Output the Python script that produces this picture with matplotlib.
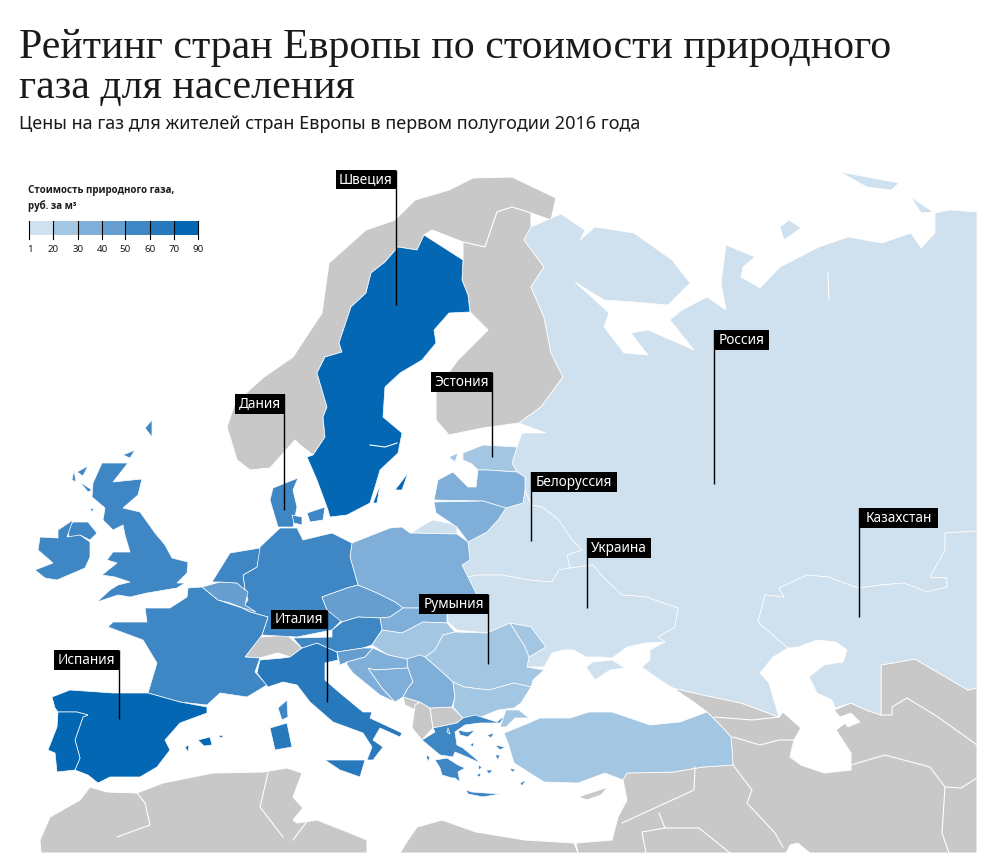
import matplotlib
matplotlib.use("Agg")
import matplotlib.pyplot as plt
from matplotlib.colors import BoundaryNorm, ListedColormap
from matplotlib.patches import Polygon, Rectangle

# --- data ---------------------------------------------------------------
TITLE = ["Рейтинг стран Европы по стоимости природного", "газа для населения"]
SUBTITLE = "Цены на газ для жителей стран Европы в первом полугодии 2016 года"
LEGEND_TITLE = ["Стоимость природного газа,", "руб. за м³"]
BOUNDS = [1, 20, 30, 40, 50, 60, 70, 90]
RAMP = ["#cfe0ee", "#a3c6e3", "#7fafd8", "#659ecf", "#3f87c4", "#2878bc", "#0367b4"]
GREY = "#c8c8c8"

PRICES = {
    "Russia": 5, "Kazakhstan": 3, "Belarus": 7, "Ukraine": 15, "Estonia": 28, "Latvia": 34,
    "Lithuania": 36, "Poland": 33, "Czechia": 42, "Slovakia": 35, "Hungary": 25, "Romania": 22,
    "Bulgaria": 28, "Moldova": 23, "Turkey": 23, "Greece": 52, "Italy": 64, "Spain": 72,
    "Portugal": 71, "Sweden": 80, "Denmark": 55, "Germany": 55, "France": 55, "UK": 53,
    "Ireland": 52, "Netherlands": 55, "Belgium": 42, "Austria": 55, "Slovenia": 45,
    "Croatia": 35, "Bosnia": 36, "Serbia": 38,
}

SHAPES = {
    "Sweden": [[(424,235),(463,260),(462,280),(468,295),(470,312),(449,313),(434,330),(436,343),(422,360),(400,373),(385,387),(383,417),(402,433),(398,453),(380,470),(375,487),(370,503),(347,515),(330,517),(328,510),(317,480),(307,457),(313,455),(325,437),(323,417),(327,407),(317,373),(325,357),(342,352),(339,343),(351,307),(366,293),(371,273),(385,262),(398,247),(417,250)],
               [(395,490),(408,473),(402,490)], [(373,503),(380,485),(377,503)]],
    "Russia": [[(977,212),(950,210),(935,213),(935,233),(921,248),(911,233),(882,243),(848,237),(819,247),(780,267),(760,288),(741,277),(743,267),(755,257),(726,245),(721,283),(726,310),(707,297),(682,310),(670,320),(694,350),(648,330),(631,333),(648,355),(624,353),(604,327),(609,313),(575,282),(604,300),(634,302),(668,305),(690,283),(672,260),(634,233),(595,227),(580,240),(585,230),(561,214),(531,227),(524,240),(544,267),(531,287),(544,317),(551,353),(563,377),(541,407),(519,423),(546,433),(522,433),(517,447),(512,463),(517,472),(525,477),(525,490),(531,505),(542,507),(559,520),(572,540),(582,550),(567,555),(570,568),(593,565),(603,577),(622,595),(646,597),(678,608),(675,627),(658,637),(665,642),(650,650),(650,660),(642,667),(660,680),(673,688),(703,695),(741,703),(779,717),(773,697),(769,683),(760,673),(773,657),(788,648),(758,622),(765,595),(784,597),(779,588),(807,575),(828,577),(858,588),(881,585),(904,583),(927,592),(947,587),(947,578),(930,577),(945,550),(945,533),(977,531)],
               [(840,172),(899,183),(891,190),(867,187)], [(911,197),(933,212),(921,213)],
               [(780,227),(789,220),(801,228),(784,240)],
               [(412,533),(420,527),(433,520),(457,525),(457,534)]],
    "Kazakhstan": [[(788,648),(758,622),(765,595),(784,597),(779,588),(807,575),(828,577),(858,588),(881,585),(904,583),(927,592),(947,587),(947,578),(930,577),(945,550),(945,533),(977,531),(977,688),(968,690),(915,659),(881,665),(881,715),(866,710),(851,703),(835,708),(832,700),(817,693),(809,677),(824,665),(843,662),(847,650),(836,642),(817,640),(798,647)]],
    "Belarus": [[(468,542),(487,532),(498,520),(506,508),(523,503),(525,490),(531,505),(542,507),(559,520),(572,540),(582,550),(567,555),(570,568),(559,570),(552,582),(529,580),(502,575),(478,575),(468,577),(462,565),(470,560)]],
    "Ukraine": [[(468,577),(478,575),(502,575),(529,580),(552,582),(559,570),(570,568),(593,565),(603,577),(622,595),(646,597),(678,608),(675,627),(658,637),(665,642),(646,643),(627,647),(612,658),(601,657),(586,657),(574,650),(563,650),(552,653),(544,667),(527,667),(529,657),(546,647),(531,627),(510,623),(487,633),(457,630),(448,622),(447,613),(477,595)],
                [(586,667),(593,662),(612,660),(625,668),(610,670),(595,680)]],
    "Moldova": [[(510,623),(531,627),(546,647),(529,657),(525,647)]],
    "Estonia": [[(463,453),(483,445),(517,447),(512,463),(517,472),(487,470),(478,470),(472,464),(463,460)], [(449,457),(458,453),(455,462)]],
    "Latvia": [[(434,500),(438,480),(453,472),(468,487),(476,487),(478,470),(487,470),(517,472),(525,477),(525,490),(523,503),(506,508),(483,501)]],
    "Lithuania": [[(434,502),(483,501),(506,508),(498,520),(487,532),(468,542),(457,527),(436,513)]],
    "Poland": [[(352,543),(390,528),(402,527),(410,533),(457,534),(468,542),(470,560),(462,565),(468,577),(477,595),(447,613),(422,608),(403,608),(395,602),(377,593),(358,585),(350,557)]],
    "Germany": [[(280,528),(297,528),(303,540),(332,533),(352,543),(350,557),(358,585),(347,588),(322,597),(327,610),(342,620),(332,630),(297,637),(262,635),(268,617),(250,612),(242,608),(248,600),(245,590),(243,575),(257,567),(258,550),(260,547)]],
    "France": [[(188,588),(202,587),(218,600),(242,608),(250,612),(268,617),(262,635),(245,657),(260,658),(255,672),(267,685),(247,697),(220,693),(207,705),(180,702),(148,693),(157,663),(143,640),(108,627),(113,622),(147,622),(145,608),(170,608),(187,597)],
               [(278,708),(287,700),(288,717),(282,720)]],
    "Belgium": [[(202,587),(220,582),(237,583),(248,592),(245,605),(256,612),(243,608),(230,603),(218,600)]],
    "Netherlands": [[(212,582),(230,553),(260,548),(257,567),(243,575),(245,590),(237,583),(220,582)]],
    "Spain": [[(52,697),(70,690),(113,693),(148,693),(180,702),(207,707),(207,713),(180,723),(165,740),(170,750),(157,767),(140,777),(110,777),(98,783),(88,775),(75,770),(80,758),(75,740),(83,717),(88,715),(77,712),(58,712),(55,708)],
              [(198,740),(210,737),(212,745),(204,746)], [(185,747),(189,745),(188,752)], [(218,736),(223,735),(222,738)]],
    "Portugal": [[(58,712),(77,712),(88,715),(83,717),(75,740),(80,758),(75,770),(57,772),(55,753),(48,750),(57,727)]],
    "Italy": [[(260,660),(283,658),(290,657),(302,648),(317,643),(337,652),(338,660),(325,663),(325,680),(340,693),(363,712),(372,712),(370,718),(402,733),(400,737),(380,728),(373,740),(383,747),(373,760),(367,760),(372,747),(363,733),(333,722),(310,702),(297,685),(283,682),(268,687),(257,673)],
              [(325,760),(365,760),(360,777),(340,770)], [(270,728),(287,723),(292,747),(275,750)]],
    "UK": [[(93,483),(102,463),(128,463),(113,482),(142,479),(138,495),(123,508),(140,512),(155,533),(165,545),(172,558),(188,562),(187,573),(177,583),(185,583),(177,588),(147,593),(130,597),(118,595),(97,602),(110,590),(118,585),(130,582),(115,577),(102,575),(117,563),(107,560),(113,552),(130,552),(125,535),(123,525),(113,530),(103,520),(105,508),(92,497)],
           [(67,530),(73,522),(88,522),(97,533),(90,540),(80,535),(70,539)],
           [(72,480),(74,470),(76,482)], [(77,472),(88,466),(83,476)], [(80,482),(92,490),(88,492)],
           [(123,455),(135,450),(130,458)], [(90,508),(94,509),(92,512)]],
    "Ireland": [[(40,537),(58,538),(58,530),(73,520),(67,537),(80,535),(90,542),(90,557),(85,568),(57,580),(45,578),(35,570),(53,563),(38,550)]],
    "Denmark": [[(270,500),(273,488),(298,478),(293,490),(297,507),(293,527),(278,527)],
                [(307,513),(325,507),(323,520),(310,522)], [(292,515),(302,517),(302,525),(294,523)],
                [(145,428),(152,420),(152,437)]],
    "Czechia": [[(322,597),(347,588),(358,585),(377,593),(395,602),(403,608),(390,617),(380,618),(358,617),(342,622),(327,610)]],
    "Slovakia": [[(380,618),(390,617),(403,608),(422,608),(447,613),(447,623),(423,622),(402,633),(382,630)]],
    "Austria": [[(342,622),(358,617),(380,618),(382,630),(372,645),(363,648),(337,652),(317,643),(302,648),(293,638),(332,637),(332,630)]],
    "Hungary": [[(382,630),(402,633),(423,622),(447,623),(455,632),(443,635),(435,650),(425,657),(407,659),(388,655),(372,645)]],
    "Slovenia": [[(337,652),(363,648),(373,648),(365,657),(347,662),(340,665)]],
    "Croatia": [[(373,648),(388,655),(407,659),(408,668),(375,670),(368,668),(382,688),(395,702),(380,695),(353,673),(347,665),(347,662),(365,657)]],
    "Bosnia": [[(368,668),(375,670),(408,668),(413,682),(408,688),(403,697),(395,702),(382,688)]],
    "Serbia": [[(407,659),(420,655),(425,657),(440,670),(453,682),(455,697),(452,707),(430,708),(420,702),(403,697),(408,688),(413,682),(408,668)]],
    "Romania": [[(455,632),(487,633),(510,623),(525,647),(529,657),(527,667),(544,670),(533,680),(531,687),(514,683),(489,690),(464,687),(453,682),(440,670),(425,657),(435,650),(443,635)]],
    "Bulgaria": [[(453,682),(464,687),(489,690),(514,683),(531,687),(521,703),(514,708),(498,710),(481,717),(463,718),(453,707),(455,697)]],
    "Greece": [[(422,740),(435,732),(433,728),(457,723),(463,718),(475,715),(497,722),(505,715),(500,723),(480,723),(465,725),(455,732),(457,745),(463,748),(475,758),(480,763),(467,757),(455,752),(453,757),(440,755),(428,745)],
               [(435,760),(447,758),(458,765),(465,768),(458,772),(460,782),(455,778),(452,778),(442,775),(440,768)],
               [(458,730),(467,732),(475,730),(468,737),(460,735)],
               [(466,790),(472,792),(500,794),(483,797),(468,794)],
               [(495,745),(505,747),(500,750)], [(495,755),(500,755),(498,760)], [(520,783),(526,780),(522,786)],
               [(478,765),(482,767),(479,770)], [(486,770),(493,770),(489,774)], [(476,775),(481,773),(480,777)],
               [(510,768),(516,770),(512,772)], [(487,735),(494,733),(491,738)], [(426,755),(430,757),(428,762)],
               [(448,728),(450,734),(447,732)], [(470,745),(474,742),(473,747)]],
    "Turkey": [[(504,733),(529,723),(540,718),(570,718),(589,712),(612,712),(650,725),(680,722),(707,712),(722,727),(731,737),(733,765),(703,767),(673,772),(627,773),(623,780),(605,773),(578,783),(544,782),(514,763),(508,743)],
               [(506,710),(519,710),(529,718),(515,718),(506,727),(500,727)]],
}
GREY_SHAPES = [
    [(237,460),(227,427),(235,403),(264,377),(293,357),(322,313),(329,263),(366,230),(395,220),(415,200),(449,190),(473,178),(512,177),(556,198),(551,220),(531,213),(512,207),(497,212),(485,247),(463,242),(432,230),(424,235),(417,250),(398,247),(385,262),(371,273),(366,293),(351,307),(339,343),(342,352),(325,357),(317,373),(327,407),(323,417),(325,437),(313,455),(300,445),(295,440),(270,468),(250,470)],
    [(485,247),(497,212),(512,207),(531,213),(531,227),(524,240),(544,267),(531,287),(544,317),(551,353),(563,377),(541,407),(519,423),(483,428),(449,435),(436,420),(436,390),(458,360),(488,330),(470,312),(468,295),(462,280),(463,260),(463,242)],
    [(245,657),(260,637),(287,635),(302,648),(290,657),(278,653),(260,658)],
    [(403,697),(420,702),(415,710),(405,705)],
    [(415,705),(420,702),(430,708),(433,728),(422,740),(412,728)],
    [(430,708),(452,707),(463,718),(457,723),(433,728)],
    [(578,797),(608,787),(601,795),(587,800)],
    [(41,853),(40,840),(50,817),(80,800),(90,787),(107,792),(137,793),(163,783),(213,773),(263,772),(287,768),(302,773),(293,797),(303,808),(293,820),(297,823),(317,820),(350,833),(367,840),(367,853)],
    [(400,853),(408,840),(417,827),(442,820),(476,832),(525,840),(574,843),(578,853)],
    [(673,688),(703,695),(741,703),(779,717),(783,712),(801,728),(794,740),(790,757),(801,765),(824,773),(851,770),(851,753),(836,730),(845,723),(834,710),(851,703),(866,710),(881,715),(881,665),(915,659),(968,690),(977,688),(977,853),(578,853),(576,843),(612,840),(618,817),(627,800),(623,780),(627,773),(673,772),(703,767),(733,765),(731,737),(722,727),(707,712),(695,703)],
]
WHITE_LINES = [
    [(137,793),(145,803),(150,825),(117,837)], [(268,773),(260,807),(283,837)], [(293,840),(308,820)],
    [(695,767),(694,790),(622,823)], [(733,765),(752,790),(747,803),(775,833),(783,847)],
    [(659,813),(665,828),(642,832),(646,853)], [(665,828),(699,828),(730,853)],
    [(851,765),(885,755),(930,767),(945,787),(942,833),(949,853)], [(945,787),(961,788),(977,778)],
    [(881,715),(892,715),(892,707),(907,698),(938,717),(977,745)],
    [(714,717),(752,720),(779,717)], [(733,737),(760,745),(779,740),(794,740)],
    [(828,273),(829,300)], [(370,445),(385,447),(397,443)],
]
WHITE_PATCHES = [
    [(840,717),(851,713),(860,722),(848,727)],
    [(786,853),(790,845),(798,843),(810,853)],
]

CALLOUTS = [
    ("Швеция", 336, 396, 170, 189, 396, 305),
    ("Дания", 235, 285, 394, 414, 284, 510),
    ("Эстония", 431, 492, 372, 392, 492, 457),
    ("Россия", 714, 769, 330, 350, 714, 484),
    ("Белоруссия", 531, 617, 472, 492, 531, 541),
    ("Украина", 587, 651, 538, 558, 587, 608),
    ("Казахстан", 859, 938, 508, 528, 859, 617),
    ("Румыния", 419, 488, 594, 614, 488, 664),
    ("Италия", 271, 327, 610, 629, 327, 702),
    ("Испания", 54, 119, 650, 670, 119, 719),
]

# --- drawing ------------------------------------------------------------
SANS = "Noto Sans"
cmap = ListedColormap(RAMP)
norm = BoundaryNorm(BOUNDS, cmap.N)

fig = plt.figure(figsize=(9.98, 8.63), dpi=100, facecolor="white")
ax = fig.add_axes([0, 0, 1, 1])
ax.set_xlim(0, 998)
ax.set_ylim(863, 0)
ax.axis("off")

for ring in GREY_SHAPES:
    ax.add_patch(Polygon(ring, closed=True, fc=GREY, ec="white", lw=0.7, zorder=1))
for name, rings in SHAPES.items():
    colour = cmap(norm(PRICES[name]))
    for ring in rings:
        ax.add_patch(Polygon(ring, closed=True, fc=colour, ec="white", lw=0.5, zorder=2))
for ring in WHITE_PATCHES:
    ax.add_patch(Polygon(ring, closed=True, fc="white", ec="white", lw=0.5, zorder=3))
for line in WHITE_LINES:
    ax.plot(*zip(*line), color="white", lw=0.8, zorder=3)

# headings
ax.text(19, 48, TITLE[0], family="Liberation Serif", fontsize=30.2, color="#1a1a1a", va="center", ha="left")
ax.text(19, 88, TITLE[1], family="Liberation Serif", fontsize=30.2, color="#1a1a1a", va="center", ha="left")
ax.text(19, 124, SUBTITLE, family=SANS, fontsize=13, color="#1a1a1a", va="center", ha="left")

# legend
LEG_X = [29.5, 53, 78, 102, 125.5, 150, 174, 198.5]
for i, colour in enumerate(RAMP):
    ax.add_patch(Rectangle((LEG_X[i], 221), LEG_X[i+1]-LEG_X[i], 14, fc=colour, ec="none", zorder=4))
for x, b in zip(LEG_X, BOUNDS):
    ax.plot([x, x], [221, 239], color="black", lw=0.8, zorder=5)
    ax.text(x, 249, str(b), family=SANS, fontsize=7, ha="center", va="center", color="#1a1a1a")
ax.text(28, 191, LEGEND_TITLE[0], family="Open Sans", fontsize=7, fontweight="bold", va="center", color="#1a1a1a")
ax.text(28, 206, LEGEND_TITLE[1], family="Open Sans", fontsize=7, fontweight="bold", va="center", color="#1a1a1a")

# call-outs
for label, x0, x1, y0, y1, lx, ly in CALLOUTS:
    ax.plot([lx, lx], [y0, ly], color="black", lw=1, zorder=6, solid_capstyle="butt")
    ax.add_patch(Rectangle((x0, y0), x1-x0, y1-y0, fc="black", ec="none", zorder=7))
    ax.text((x0+x1)/2, (y0+y1)/2, label, family=SANS, fontsize=9.8, color="white",
            ha="center", va="center", zorder=8)

fig.savefig("out.png", dpi=100, facecolor="white")
